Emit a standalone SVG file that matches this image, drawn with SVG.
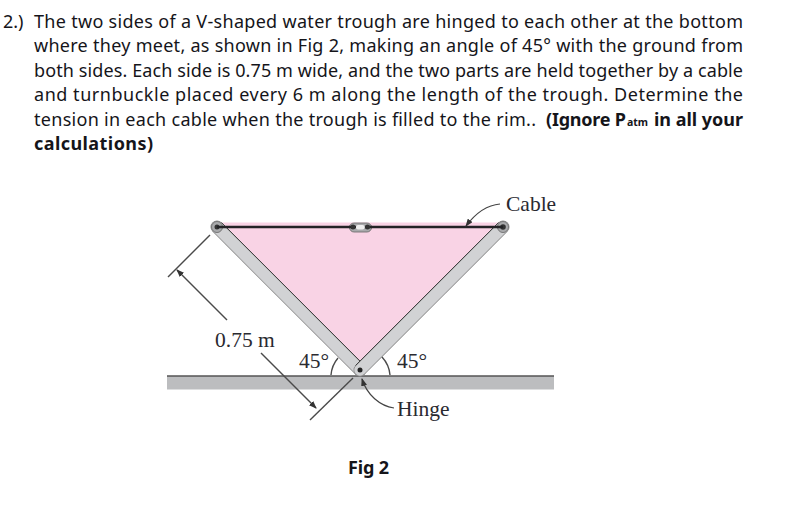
<svg xmlns="http://www.w3.org/2000/svg" width="793" height="510" viewBox="0 0 793 510">
<style>
.t{font-family:"Noto Sans","Open Sans",sans-serif;font-size:18px;fill:#15151a}
.b{font-weight:700}
.s{font-family:"Liberation Serif",serif;font-size:21.500px;fill:#2a2a30}
.dim{stroke:#4a4a4a;stroke-width:1.400;fill:none}
.bar{stroke-linecap:round;fill:none}
.ring{fill:#a9aaac;stroke:#777;stroke-width:1}
</style>
<defs>
<marker id="ah" markerWidth="8" markerHeight="6" refX="7" refY="3" orient="auto" markerUnits="userSpaceOnUse"><path d="M0 0L8 3L0 6z" fill="#333"/></marker>
</defs>
<rect width="793" height="510" fill="#fff"/>
<g id="problem-text">
<text class="t" x="3" y="28">2.)</text>
<text class="t" x="34" y="28" textLength="709" lengthAdjust="spacing">The two sides of a V-shaped water trough are hinged to each other at the bottom</text>
<text class="t" x="34" y="52" textLength="709" lengthAdjust="spacing">where they meet, as shown in Fig 2, making an angle of 45° with the ground from</text>
<text class="t" x="34" y="77" textLength="709" lengthAdjust="spacing">both sides. Each side is 0.75 m wide, and the two parts are held together by a cable</text>
<text class="t" x="34" y="101" textLength="709" lengthAdjust="spacing">and turnbuckle placed every 6 m along the length of the trough. Determine the</text>
<text class="t" x="34" y="126" textLength="502" lengthAdjust="spacing">tension in each cable when the trough is filled to the rim..</text>
<text class="t b" x="546" y="126" textLength="80" lengthAdjust="spacing">(Ignore P</text>
<text class="t b" x="627" y="126" style="font-size:10.500px" textLength="21" lengthAdjust="spacing">atm</text>
<text class="t b" x="654" y="126" textLength="89" lengthAdjust="spacing">in all your</text>
<text class="t b" x="34" y="150" textLength="119" lengthAdjust="spacing">calculations)</text>
</g>
<g id="ground">
<rect x="167" y="376" width="387" height="13.500" fill="#bcbdbf"/>
<line x1="167" y1="376" x2="554" y2="376" stroke="#555" stroke-width="1.500"/>
</g>
<g id="water"><polygon points="222,222.500 498,222.500 360,362" fill="#f9d3e5"/></g>
<g id="left-side">
<line class="bar" x1="217" y1="227" x2="360" y2="370" stroke="#888" stroke-width="13"/>
<line class="bar" x1="217" y1="227" x2="360" y2="370" stroke="#d1d2d4" stroke-width="11.500"/>
<line x1="221.500" y1="222.500" x2="364.500" y2="365.500" stroke="#444" stroke-width="1"/>
<circle class="ring" cx="217" cy="227" r="5.500"/>
<circle cx="217" cy="227" r="2.500" fill="#333"/>
</g>
<g id="right-side">
<line class="bar" x1="503" y1="227" x2="360" y2="370" stroke="#888" stroke-width="13"/>
<line class="bar" x1="503" y1="227" x2="360" y2="370" stroke="#d1d2d4" stroke-width="11.500"/>
<line x1="498.500" y1="222.500" x2="355.500" y2="365.500" stroke="#444" stroke-width="1"/>
<circle class="ring" cx="503" cy="227" r="5.500"/>
<circle cx="503" cy="227" r="2.800" fill="#333"/>
</g>
<g id="hinge">
<circle cx="360" cy="370" r="2.500" fill="#222"/>
<path d="M394 408C380 406 367 395 362 379" fill="none" stroke="#444" stroke-width="1.200" marker-end="url(#ah)"/>
<text class="s" x="397" y="416">Hinge</text>
</g>
<g id="cable">
<line x1="217" y1="227" x2="503" y2="227" stroke="#232326" stroke-width="2.500"/>
<path d="M500 204C487 205 475 214 466 226" fill="none" stroke="#444" stroke-width="1.200" marker-end="url(#ah)"/>
<text class="s" x="506" y="211">Cable</text>
</g>
<g id="turnbuckle">
<rect x="349.500" y="223" width="22" height="9" rx="4.500" fill="#a9aaac" stroke="#666" stroke-width=".8"/>
<rect x="356" y="225" width="8.500" height="4.500" rx="2" fill="#eee"/>
<line x1="349" y1="227" x2="356" y2="227" stroke="#232326" stroke-width="2.500"/>
<line x1="365" y1="227" x2="372" y2="227" stroke="#232326" stroke-width="2.500"/>
<circle cx="353" cy="227" r="2.500" fill="#333"/>
<circle cx="367.500" cy="227" r="2.500" fill="#333"/>
</g>
<g id="dimension">
<line class="dim" x1="210" y1="235" x2="168" y2="277"/>
<line class="dim" x1="353" y1="378" x2="310" y2="420"/>
<line class="dim" x1="227" y1="320" x2="177" y2="270" marker-end="url(#ah)"/>
<line class="dim" x1="261" y1="353" x2="316" y2="408" marker-end="url(#ah)"/>
<text class="s" x="215" y="347">0.75 m</text>
</g>
<g id="angles">
<path d="M331 375A30 30 0 0 1 338 358" class="dim" stroke-width="1.100"/>
<path d="M390 375A30 30 0 0 0 382 357" class="dim" stroke-width="1.100"/>
<text class="s" x="299" y="368">45°</text>
<text class="s" x="397" y="368">45°</text>
</g>
<g id="caption"><text class="t b" x="348" y="474" textLength="41" lengthAdjust="spacing">Fig 2</text></g>
</svg>
